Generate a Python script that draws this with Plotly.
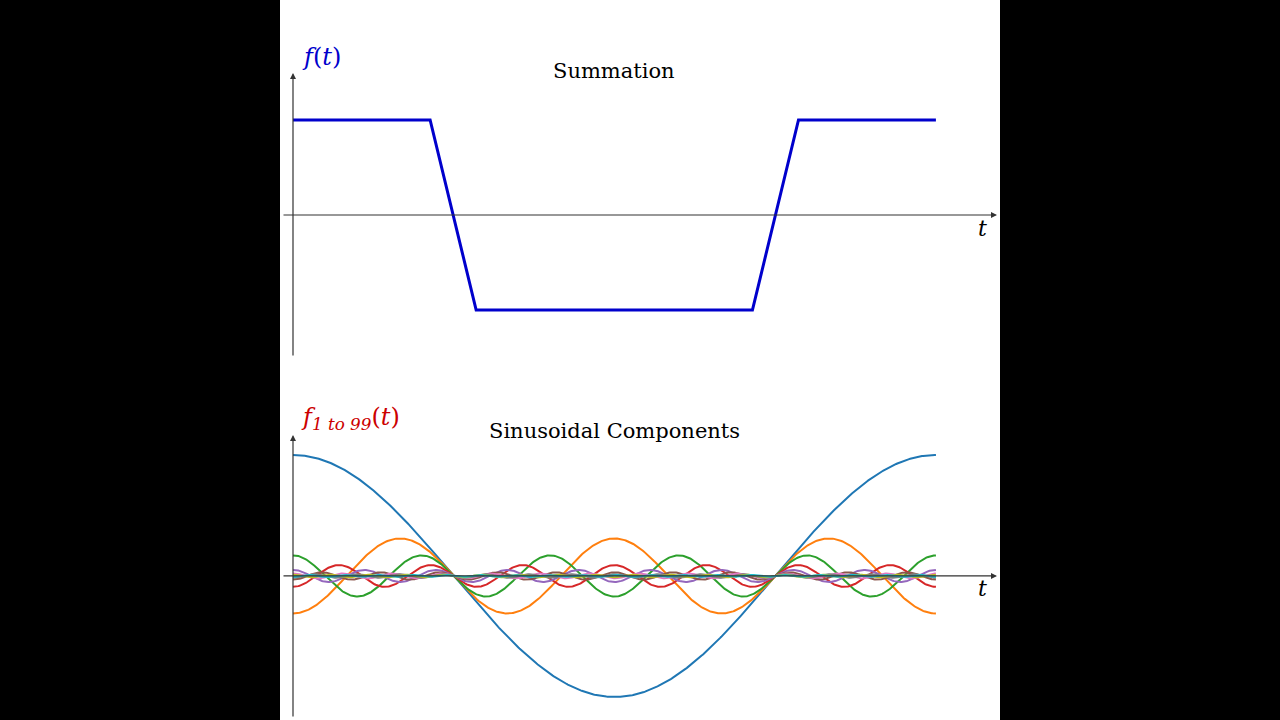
import numpy as np
import plotly.graph_objects as go

# top panel: trapezoid summation, corner points
sum_t = [0.0, 1.34, 1.79, 4.49, 4.94, 6.283]
sum_f = [1.0, 1.0, -1.0, -1.0, 1.0, 1.0]

# bottom panel: odd cosine harmonics and their amplitudes
harm_n = [1, 3, 5, 7, 9, 11, 13, 15, 17, 19]
harm_amp = [1.0, -0.31, 0.17, -0.09, 0.05, -0.03, 0.02, -0.015, 0.01, -0.008]
harm_col = ['#1f77b4', '#ff7f0e', '#2ca02c', '#d62728', '#9467bd',
            '#8c564b', '#e377c2', '#7f7f7f', '#bcbd22', '#17becf']

t = np.linspace(0, 2 * np.pi, 600)

fig = go.Figure()
fig.add_trace(go.Scatter(x=sum_t, y=sum_f, mode='lines',
                         line=dict(color='#0000cc', width=3), xaxis='x', yaxis='y'))
for n, a, c in zip(harm_n, harm_amp, harm_col):
    fig.add_trace(go.Scatter(x=t, y=a * np.cos(n * t), mode='lines',
                             line=dict(color=c, width=2), xaxis='x2', yaxis='y2'))

xr = [-0.1075, 6.88]
ax_common = dict(showgrid=False, zeroline=False, showticklabels=False, ticks='', fixedrange=True)
fig.update_layout(
    width=1280, height=720, margin=dict(l=0, r=0, t=0, b=0),
    paper_bgcolor='black', plot_bgcolor='rgba(0,0,0,0)', showlegend=False,
    xaxis=dict(domain=[282 / 1280, 997 / 1280], range=xr, **ax_common),
    yaxis=dict(domain=[1 - 357 / 720, 1 - 73 / 720], range=[-1.495, 1.495], **ax_common),
    xaxis2=dict(domain=[282 / 1280, 997 / 1280], range=xr, anchor='y2', **ax_common),
    yaxis2=dict(domain=[1 - 718 / 720, 1 - 435 / 720], range=[-1.174, 1.165], anchor='x2', **ax_common),
)
fig.add_shape(type='rect', xref='paper', yref='paper', x0=280 / 1280, x1=1000 / 1280,
              y0=0, y1=1, fillcolor='white', line_width=0, layer='below')

# axes with arrowheads
for xa, ya, yr in [('x', 'y', [-1.495, 1.495]), ('x2', 'y2', [-1.174, 1.165])]:
    fig.add_annotation(x=xr[1], y=0, ax=xr[0], ay=0, xref=xa, yref=ya, axref=xa, ayref=ya,
                       showarrow=True, arrowhead=2, arrowsize=1, arrowwidth=1.2,
                       arrowcolor='#333', text='')
    fig.add_annotation(x=0, y=yr[1], ax=0, ay=yr[0], xref=xa, yref=ya, axref=xa, ayref=ya,
                       showarrow=True, arrowhead=2, arrowsize=1, arrowwidth=1.2,
                       arrowcolor='#333', text='')

serif = 'DejaVu Serif'
labels = [
    (614, 71, 'Summation', 'black', 21),
    (614, 431, 'Sinusoidal Components', 'black', 21),
    (321, 57, '<i>f</i>(<i>t</i>)', '#0000cc', 24),
    (350, 418, '<i>f</i><sub><i>1 to 99</i></sub>(<i>t</i>)', '#cc0000', 24),
    (982, 228, '<i>t</i>', 'black', 22),
    (982, 588, '<i>t</i>', 'black', 22),
]
for px, py, txt, col, sz in labels:
    fig.add_annotation(x=px / 1280, y=1 - py / 720, xref='paper', yref='paper', text=txt,
                       showarrow=False, font=dict(family=serif, size=sz, color=col),
                       xanchor='center', yanchor='middle')

fig.write_html('out.html', config={'displayModeBar': False},
               post_script="document.body.style.margin='0';document.body.style.background='black';")
